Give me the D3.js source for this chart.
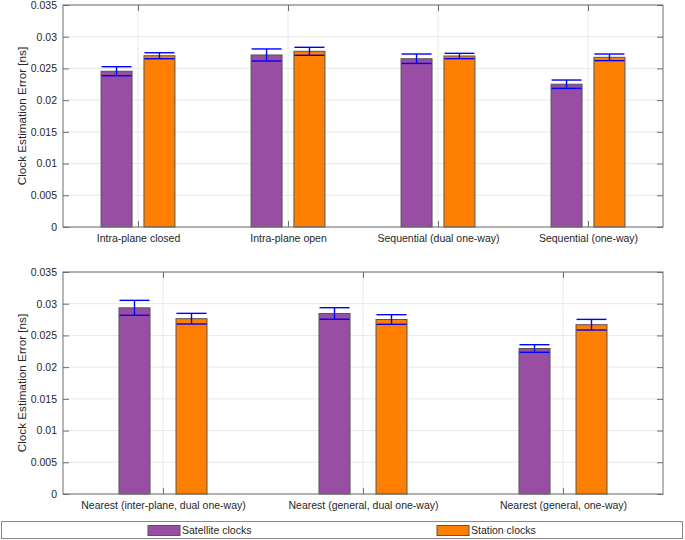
<!DOCTYPE html>
<html>
<head>
<meta charset="utf-8">
<script src="https://cdn.jsdelivr.net/npm/d3@7"></script>
<style>
  body { margin: 0; background: #fff; }
  text { font-family: "Liberation Sans", Arial, sans-serif; fill: #262626; }
</style>
</head>
<body>
<svg id="chart" width="685" height="540"></svg>
<script>
// data
const topCategories = ["Intra-plane closed", "Intra-plane open", "Sequential (dual one-way)", "Sequential (one-way)"];
const topSatellite = [0.02456, 0.02712, 0.02653, 0.02251];
const topSatelliteErr = [0.00071, 0.00095, 0.00074, 0.00066];
const topStation = [0.0270, 0.0277, 0.02696, 0.02675];
const topStationErr = [0.00047, 0.00063, 0.00042, 0.00052];

const bottomCategories = ["Nearest (inter-plane, dual one-way)", "Nearest (general, dual one-way)", "Nearest (general, one-way)"];
const bottomSatellite = [0.02935, 0.02846, 0.02294];
const bottomSatelliteErr = [0.00118, 0.00091, 0.0006];
const bottomStation = [0.02764, 0.02751, 0.02669];
const bottomStationErr = [0.00084, 0.00076, 0.00084];

const yTicks = [0, 0.005, 0.01, 0.015, 0.02, 0.025, 0.03, 0.035];
const seriesNames = ["Satellite clocks", "Station clocks"];
const colors = ["#984ea3", "#ff7f00"];

const svg = d3.select("#chart");
const fmt = d3.format("~g");

function drawPanel(cats, sat, satErr, sta, staErr, top, bottom, offset) {
  const left = 63, right = 663;
  const n = cats.length;
  const x = d3.scaleLinear().domain([0.5, n + 0.5]).range([left, right]);
  const y = d3.scaleLinear().domain([0, 0.035]).range([bottom, top]);
  const g = svg.append("g");
  const barW = 31;

  // grid
  g.selectAll(".hgrid").data(yTicks).join("line")
    .attr("x1", left).attr("x2", right)
    .attr("y1", d => y(d)).attr("y2", d => y(d))
    .attr("stroke", "#e8e8e8");
  g.selectAll(".vgrid").data(cats).join("line")
    .attr("x1", (d, i) => x(i + 1)).attr("x2", (d, i) => x(i + 1))
    .attr("y1", top).attr("y2", bottom)
    .attr("stroke", "#e8e8e8");

  const series = [[sat, satErr], [sta, staErr]];
  series.forEach((s, k) => {
    const off = k === 0 ? -offset : offset;
    const rows = s[0].map((v, i) => ({ i: i + 1, v: v, e: s[1][i] }));
    g.selectAll(".bar" + k).data(rows).join("rect")
      .attr("x", d => x(d.i + off) - barW / 2)
      .attr("width", barW)
      .attr("y", d => y(d.v))
      .attr("height", d => y(0) - y(d.v))
      .attr("fill", colors[k])
      .attr("stroke", "#555")
      .attr("stroke-width", 1);
    // error bars
    const eb = g.selectAll(".err" + k).data(rows).join("g").attr("stroke", "#0000ff").attr("stroke-width", 1.4);
    eb.append("line")
      .attr("x1", d => x(d.i + off)).attr("x2", d => x(d.i + off))
      .attr("y1", d => y(d.v - d.e)).attr("y2", d => y(d.v + d.e));
    [-1, 1].forEach(sg => {
      eb.append("line")
        .attr("x1", d => x(d.i + off) - 15).attr("x2", d => x(d.i + off) + 15)
        .attr("y1", d => y(d.v + sg * d.e)).attr("y2", d => y(d.v + sg * d.e));
    });
  });

  // box and ticks
  g.append("rect").attr("x", left).attr("y", top).attr("width", right - left).attr("height", bottom - top)
    .attr("fill", "none").attr("stroke", "#6e6e6e").attr("stroke-width", 1);

  g.append("g").attr("transform", `translate(0,${bottom})`)
    .call(d3.axisBottom(x).tickValues(d3.range(1, n + 1)).tickSize(-6).tickPadding(8)
      .tickFormat(d => cats[d - 1]))
    .call(a => a.select(".domain").remove())
    .call(a => a.selectAll("line").attr("stroke", "#6e6e6e"))
    .call(a => a.selectAll("text").attr("font-size", "10.5px").attr("fill", "#262626"));
  g.append("g").attr("transform", `translate(0,${top})`)
    .call(d3.axisTop(x).tickValues(d3.range(1, n + 1)).tickSize(-6).tickFormat(""))
    .call(a => a.select(".domain").remove())
    .call(a => a.selectAll("line").attr("stroke", "#6e6e6e"));

  g.append("g").attr("transform", `translate(${left},0)`)
    .call(d3.axisLeft(y).tickValues(yTicks).tickSize(-6).tickPadding(6).tickFormat(fmt))
    .call(a => a.select(".domain").remove())
    .call(a => a.selectAll("line").attr("stroke", "#6e6e6e"))
    .call(a => a.selectAll("text").attr("font-size", "10.5px").attr("fill", "#262626"));
  g.append("g").attr("transform", `translate(${right},0)`)
    .call(d3.axisRight(y).tickValues(yTicks).tickSize(-6).tickFormat(""))
    .call(a => a.select(".domain").remove())
    .call(a => a.selectAll("line").attr("stroke", "#6e6e6e"));

  g.append("text")
    .attr("transform", `translate(22,${(top + bottom) / 2}) rotate(-90)`)
    .attr("text-anchor", "middle")
    .attr("dy", "0.35em")
    .attr("font-size", "11.7px")
    .text("Clock Estimation Error [ns]");
}

drawPanel(topCategories, topSatellite, topSatelliteErr, topStation, topStationErr, 5, 227, 0.143);
drawPanel(bottomCategories, bottomSatellite, bottomSatelliteErr, bottomStation, bottomStationErr, 272, 494, 0.1425);

// legend
const lg = svg.append("g");
lg.append("rect").attr("x", 1.5).attr("y", 521.5).attr("width", 681).attr("height", 17)
  .attr("fill", "#fff").attr("stroke", "#888");
const legendX = [148, 437];
seriesNames.forEach((name, k) => {
  lg.append("rect").attr("x", legendX[k]).attr("y", 525.5).attr("width", 32).attr("height", 10)
    .attr("fill", colors[k]).attr("stroke", "#555");
  lg.append("text").attr("x", legendX[k] + 34).attr("y", 530.5).attr("dy", "0.35em")
    .attr("font-size", "10.5px").text(name);
});
</script>
</body>
</html>
